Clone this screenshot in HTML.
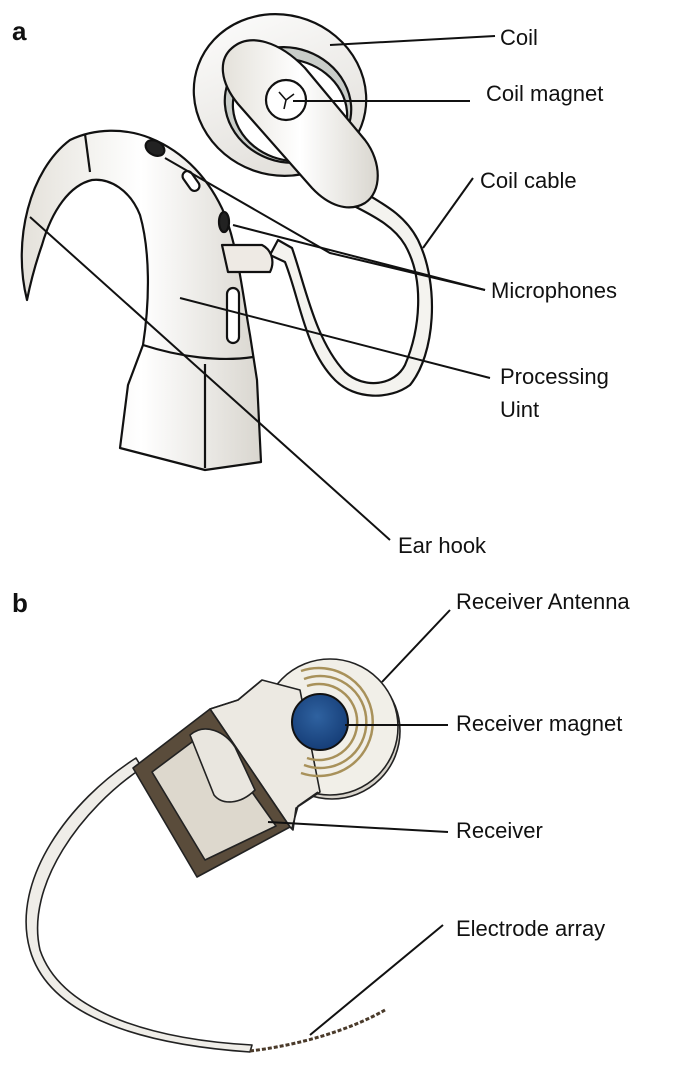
<!DOCTYPE html>
<html><head><meta charset="utf-8"><style>
html,body{margin:0;padding:0;background:#fff}
svg{display:block}
text{font-family:"Liberation Sans",Arial,sans-serif;fill:#111}
</style></head><body>
<svg width="685" height="1076" viewBox="0 0 685 1076" xmlns="http://www.w3.org/2000/svg">
<defs>
<linearGradient id="g1" x1="0" y1="0" x2="1" y2="1"><stop offset="0" stop-color="#fff"/><stop offset="1" stop-color="#dcd9d3"/></linearGradient>
<linearGradient id="g2" x1="0" y1="0" x2="1" y2="0"><stop offset="0" stop-color="#e4e1da"/><stop offset=".5" stop-color="#fff"/><stop offset="1" stop-color="#d9d6cf"/></linearGradient>
<radialGradient id="bl" cx=".45" cy=".4" r=".6"><stop offset="0" stop-color="#2f62a0"/><stop offset="1" stop-color="#163e78"/></radialGradient>
</defs>
<text x="12" y="40" font-size="26" font-weight="bold">a</text>
<text x="12" y="612" font-size="26" font-weight="bold">b</text>

<!-- PART A -->
<g stroke="#111" stroke-width="2.2" fill="url(#g1)" stroke-linejoin="round">
<ellipse cx="280" cy="95" rx="87" ry="80" transform="rotate(20 280 95)"/>
<ellipse cx="288" cy="105" rx="64" ry="57" transform="rotate(20 288 105)" fill="#c9cdc9"/>
<ellipse cx="290" cy="110" rx="58" ry="50" transform="rotate(20 290 110)" fill="#fff"/>
<!-- cable loop -->
<path d="M360,190 C385,205 405,215 418,240 C440,285 435,355 410,385 C390,400 355,400 335,380 C305,350 300,300 285,262 L270,255 L278,240 L292,248 C305,285 315,340 345,372 C365,390 395,385 405,365 C420,330 425,280 405,245 C395,228 378,218 352,205 Z" fill="#f4f3ef"/>
<!-- coil body pill -->
<path d="M232,48 C250,32 280,42 305,68 L365,140 C382,162 382,192 365,203 C348,213 328,205 312,188 L238,104 C220,82 218,60 232,48 Z" fill="url(#g2)"/>
<circle cx="286" cy="100" r="20" fill="#fff"/>
<path d="M279,92 L286,100 L294,94 M286,100 L284,109" fill="none" stroke-width="1.6"/>
<!-- ear hook + processor -->
<path d="M27,300 C12,240 30,170 70,140 C95,128 125,128 150,138 C185,152 210,180 225,215 C238,250 242,290 250,335 L257,380 L261,462 L205,470 L120,448 L128,385 L143,345 C150,300 150,250 140,215 C130,190 110,178 92,180 C70,185 52,210 42,245 C35,265 30,285 27,300 Z" fill="url(#g2)"/>
<path d="M85,134 L90,172" fill="none"/>
<path d="M143,345 C180,357 220,362 253,357" fill="none"/>
<path d="M205,364 L205,468" fill="none"/>
<path d="M222,245 L262,245 C272,250 275,262 270,272 L228,272 Z" fill="#eeeae4"/>
<rect x="227" y="288" width="12" height="55" rx="6" fill="#fff"/>
<ellipse cx="155" cy="148" rx="10" ry="7" fill="#222" transform="rotate(30 155 148)"/>
<ellipse cx="224" cy="222" rx="5" ry="10" fill="#222"/>
<rect x="186" y="170" width="10" height="22" rx="5" fill="#fff" transform="rotate(-35 191 181)"/>
</g>

<!-- PART B -->
<g stroke="#222" stroke-width="1.6" stroke-linejoin="round">
<path d="M136,758 C70,800 10,880 30,950 C50,1020 150,1045 250,1052 L252,1045 C160,1040 62,1015 40,950 C25,885 82,808 142,768 Z" fill="#efede8"/>
<path d="M250,1051 C300,1045 350,1030 385,1010" fill="none" stroke="#4a3a2a" stroke-width="3" stroke-dasharray="4 2"/>
<circle cx="332" cy="731" r="68" fill="#d8d4cc"/>
<circle cx="330" cy="727" r="68" fill="#f1efe8"/>
<path d="M210,709 L238,700 L262,680 L300,690 L320,792 L296,808 L293,830 L290,827 Z" fill="#ece9e2"/>
<path d="M210,709 L238,700 L262,680" fill="none"/>
<path d="M318,792 L298,806 L292,828" fill="none"/>
<path d="M210,709 L290,827 L197,877 L133,768 Z" fill="#5a4c3b"/>
<path d="M208,730 L276,826 L205,860 L152,772 Z" fill="#ddd8cd"/>
<path d="M190,735 C205,722 225,732 235,747 L255,790 C240,805 222,805 214,795 Z" fill="#e9e6df"/>
<g fill="none" stroke="#a8915a" stroke-width="2.5">
<path d="M307,686 A38,38 0 1 1 307,758"/>
<path d="M304,679 A46,46 0 1 1 304,765"/>
<path d="M301,671 A54,54 0 1 1 301,773"/>
</g>
<circle cx="320" cy="722" r="28" fill="url(#bl)" stroke="#111" stroke-width="2"/>
</g>

<!-- leader lines -->
<g stroke="#111" stroke-width="2" fill="none">
<line x1="330" y1="45" x2="495" y2="36"/>
<line x1="293" y1="101" x2="470" y2="101"/>
<line x1="423" y1="248" x2="473" y2="178"/>
<polyline points="165,158 330,253 485,290"/>
<line x1="233" y1="225" x2="485" y2="290"/>
<line x1="180" y1="298" x2="490" y2="378"/>
<line x1="30" y1="217" x2="390" y2="540"/>
<line x1="382" y1="682" x2="450" y2="610"/>
<line x1="345" y1="725" x2="448" y2="725"/>
<line x1="268" y1="822" x2="448" y2="832"/>
<line x1="310" y1="1035" x2="443" y2="925"/>
</g>

<g font-size="22">
<text x="500" y="45">Coil</text>
<text x="486" y="101">Coil magnet</text>
<text x="480" y="188">Coil cable</text>
<text x="491" y="298">Microphones</text>
<text x="500" y="384">Processing</text>
<text x="500" y="417">Uint</text>
<text x="398" y="553">Ear hook</text>
<text x="456" y="609">Receiver Antenna</text>
<text x="456" y="731">Receiver magnet</text>
<text x="456" y="838">Receiver</text>
<text x="456" y="936">Electrode array</text>
</g>
</svg>
</body></html>
